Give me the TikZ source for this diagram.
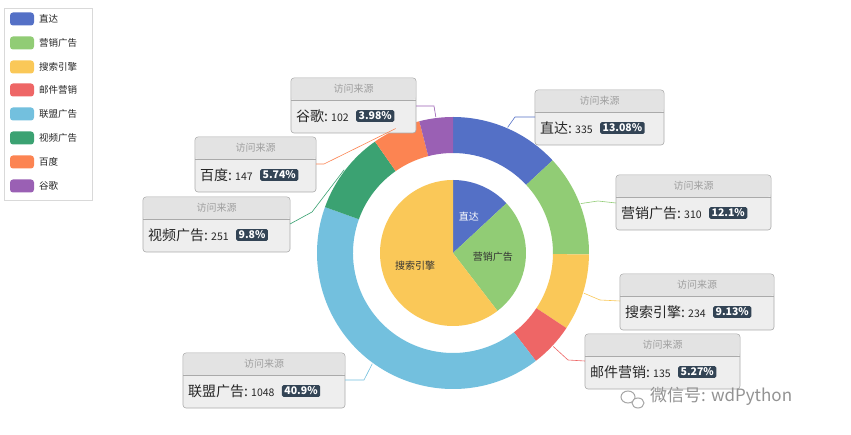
\documentclass[tikz,border=0pt]{standalone}
\usepackage{fontspec}
\setmainfont{Noto Sans CJK SC}
\setsansfont{Noto Sans CJK SC}
\usetikzlibrary{calc}
\definecolor{c1}{HTML}{5470C6}\definecolor{c2}{HTML}{91CC75}\definecolor{c3}{HTML}{FAC858}
\definecolor{c4}{HTML}{EE6666}\definecolor{c5}{HTML}{73C0DE}\definecolor{c6}{HTML}{3BA272}
\definecolor{c7}{HTML}{FC8452}\definecolor{c8}{HTML}{9A60B4}
\definecolor{bodyc}{HTML}{EEEEEE}\definecolor{hdrc}{HTML}{E3E3E3}\definecolor{bordc}{HTML}{AAAAAA}
\definecolor{badgec}{HTML}{334455}
\tikzset{
 lbox/.style={draw=bordc,fill=bodyc,rounded corners=3pt,line width=0.6pt},
 htxt/.style={text=gray!75,font=\fontsize{10}{12}\selectfont,inner sep=0},
 ntxt/.style={font=\fontsize{14}{16}\selectfont,anchor=west,inner sep=0,text=black!85},
 badge/.style={fill=badgec,text=white,font=\fontsize{10.5}{12}\selectfont\bfseries,rounded corners=1.5pt,inner xsep=2.5pt,inner ysep=1.8pt,anchor=west},
 leg/.style={font=\fontsize{9.5}{11}\selectfont,anchor=west,inner sep=0,text=black!85},
 lead/.style={line width=0.6pt},
 itxt/.style={font=\fontsize{10}{12}\selectfont}
}
% \lab{id}{x1}{y1}{x2}{y2}{name}{value}{pct}
\newcommand{\lab}[8]{%
 \draw[lbox] (#2,#3) rectangle (#4,#5);
 \fill[hdrc,rounded corners=3pt] ($(#2,#3)+(0.5,0.5)$) rectangle ($(#4,#3+22)+(-0.5,0)$);
 \draw[bordc,line width=0.6pt] (#2,#3+22) -- (#4,#3+22);
 \node[htxt] (#1h) at ({(#2+#4)/2},#3+11) {访问来源};
 \node[ntxt] (#1n) at (#2+5,#3+38) {#6:~{\fontsize{10.5}{12}\selectfont #7}};
 \node[badge] (#1b) at ($(#1n.east)+(7,0)$) {#8};
}
\newcommand{\myring}[3]{\fill[#1] ($(O)+({-(#2)}:136)$) arc[start angle={-(#2)},end angle={-(#3)},radius=136] -- ($(O)+({-(#3)}:100)$) arc[start angle={-(#3)},end angle={-(#2)},radius=100] -- cycle;}
\newcommand{\myslice}[3]{\fill[#1] (O) -- ($(O)+({-(#2)}:73)$) arc[start angle={-(#2)},end angle={-(#3)},radius=73] -- cycle;}
\begin{document}
\begin{tikzpicture}[x=1pt,y=-1pt]
\useasboundingbox (0,0) rectangle (851,435);
\fill[white] (0,0) rectangle (851,435);
\def\cx{453}\def\cy{253}
\coordinate (O) at (\cx,\cy);
\myring{c1}{90}{42.93}
\myring{c2}{42.93}{-0.63}
\myring{c3}{-0.63}{-33.51}
\myring{c4}{-33.51}{-52.48}
\myring{c5}{-52.48}{-199.74}
\myring{c6}{-199.74}{-235.01}
\myring{c7}{-235.01}{-255.67}
\myring{c8}{-255.67}{-270}
\myslice{c1}{90}{42.93}
\myslice{c2}{42.93}{-52.48}
\myslice{c3}{-52.48}{-270}
\node[itxt,text=white] (i1) at ($(O)+({-66.5}:40)$) {直达};
\node[itxt,text=black!80] (i2) at ($(O)+({4.8}:40)$) {营销广告};
\node[itxt,text=black!80] (i3) at ($(O)+({161}:40)$) {搜索引擎};
% labels
\lab{a}{535}{90}{664}{145}{直达}{335}{13.08\%}
\lab{b}{616}{175}{771}{230}{营销广告}{310}{12.1\%}
\lab{c}{620}{274}{774}{330}{搜索引擎}{234}{9.13\%}
\lab{d}{585}{334}{740}{389}{邮件营销}{135}{5.27\%}
\lab{e}{183}{353}{345}{408}{联盟广告}{1048}{40.9\%}
\lab{f}{143}{197}{290}{252}{视频广告}{251}{9.8\%}
\lab{g}{195}{137}{316}{192}{百度}{147}{5.74\%}
\lab{h}{291}{78}{416}{133}{谷歌}{102}{3.98\%}
% leader lines
\coordinate (la) at (535,117);\draw[lead,c1] ($(O)+(-66.5:137)$) -- (515,117) -- (la);
\coordinate (lb) at (616,203);\draw[lead,c2] ($(O)+(-21.15:137)$) -- (598,201) -- (lb);
\coordinate (lc) at (620,301);\draw[lead,c3] ($(O)+(17.07:137)$) -- (600,300) -- (lc);
\coordinate (ld) at (585,361);\draw[lead,c4] ($(O)+(43:137)$) -- (568,360) -- (ld);
\coordinate (le) at (345,380);\draw[lead,c5] ($(O)+(126.1:137)$) -- (364,380) -- (le);
\coordinate (lf) at (290,224);\draw[lead,c6] ($(O)+(217.4:137)$) -- (312,212) -- (lf);
\coordinate (lg) at (316,164);\draw[lead,c7] ($(O)+(245.3:137)$) -- (324,164) -- (lg);
\coordinate (lh) at (416,106);\draw[lead,c8] ($(O)+(262.8:137)$) -- (434,106) -- (lh);
% legend
\draw[draw=black!15,line width=0.5pt] (4,8) rectangle (92,200);
\foreach \c/\t/\y in {c1/直达/19,c2/营销广告/43,c3/搜索引擎/67,c4/邮件营销/90,c5/联盟广告/114,c6/视频广告/138,c7/百度/162,c8/谷歌/186}{
 \fill[\c,rounded corners=3pt] (10,\y-6.5) rectangle (34,\y+6.5);
 \node[leg] (leg\c) at (39,\y) {\t};
}
% watermark
\draw[gray!70,line width=1pt] (628,397) ellipse[x radius=7,y radius=6];
\draw[gray!70,line width=1pt,fill=white] (638,403) ellipse[x radius=6,y radius=5];
\node[font=\fontsize{17}{19}\selectfont,text=gray!85,anchor=west,inner sep=0] (wm) at (650,396) {微信号: wdPython};
\end{tikzpicture}
\end{document}
